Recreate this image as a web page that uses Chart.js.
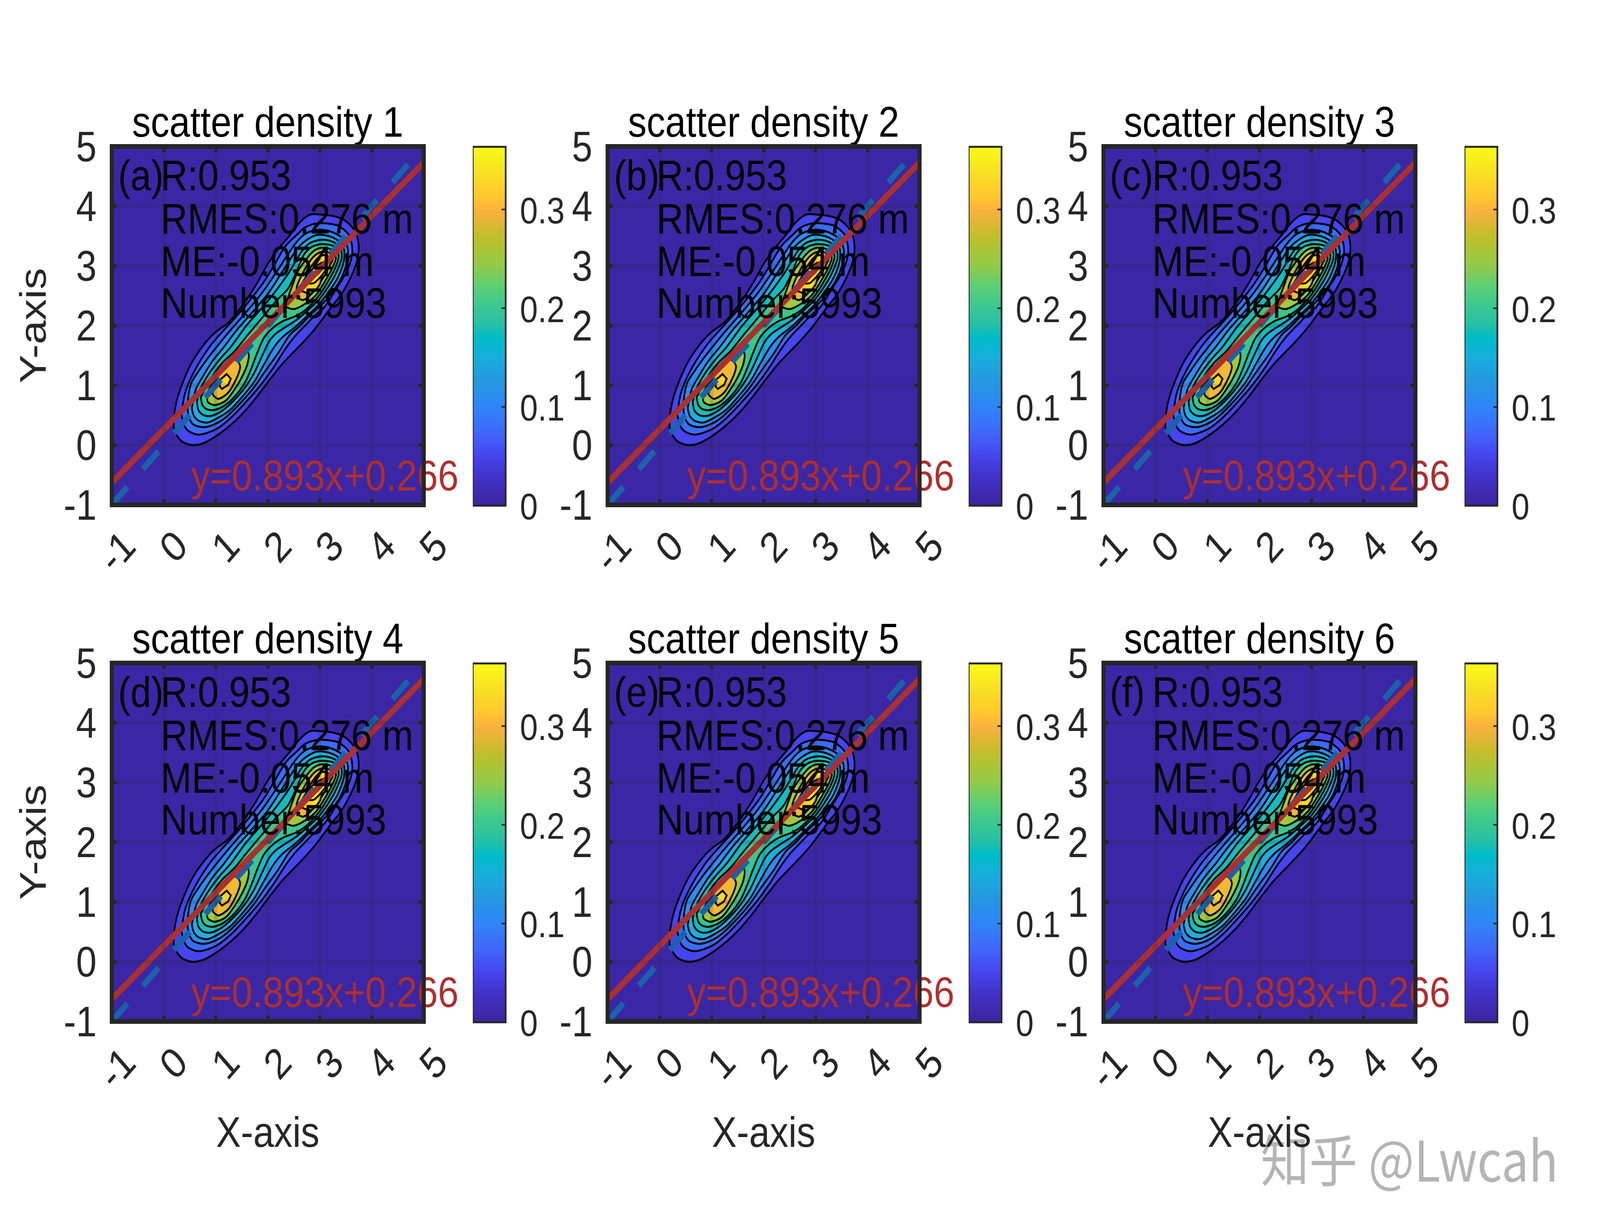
<!DOCTYPE html>
<html lang="zh">
<head>
<meta charset="UTF-8">
<title>scatter density</title>
<script src="https://cdn.jsdelivr.net/npm/chart.js"></script>
<style>
    html, body { margin: 0; background: #fff; overflow: hidden; }
    #page { width: 4724px; height: 3150px; position: relative; transform-origin: 0 0; }
    canvas { position: absolute; }
    #mark {
        position: absolute; left: 3722px; top: 2860px; white-space: pre;
        font: 143px "Noto Sans CJK SC"; color: #b4b4b4; text-shadow: -5px -4px 0 #fff;
    }
</style>
</head>
<body>
<div id="page"><div id="mark">知乎 @Lwcah</div></div>

<script>
    // values
    const panelTitles = ['scatter density 1', 'scatter density 2', 'scatter density 3', 'scatter density 4', 'scatter density 5', 'scatter density 6'];
    const panelLetters = ['(a)', '(b)', '(c)', '(d)', '(e)', '(f)'];
    const noteLines = ['R:0.953', 'RMES:0.276 m', 'ME:-0.054 m', 'Number:5993'];
    const fitLabel = 'y=0.893x+0.266';
    const axisTicks = [-1, 0, 1, 2, 3, 4, 5];
    const colorTicks = [0, 0.1, 0.2, 0.3];
    const colorMax = 0.3635;
    const fitLine = [[-1, -0.627], [5, 4.731]];
    const identityLine = [[-1, -1], [5, 5]];

    // colour bar (value, colour)
    const barValues = [0, 0.029, 0.053, 0.075, 0.099, 0.126, 0.15, 0.17, 0.184, 0.204, 0.223, 0.242, 0.262, 0.276, 0.298, 0.315, 0.337, 0.3635];
    const barColors = ['#3c259e', '#4232c8', '#4548f0', '#4068fa', '#2e84f8', '#2598e0', '#17aedb', '#00bcc8', '#27c0a6', '#3dc98e', '#5fcf73', '#8fcb4b', '#b0c233', '#c9bd2c', '#f9b03e', '#ffc92e', '#f7e024', '#f9fb15'];

    // density contours, outer to inner
    const plotBack = [[-1, -1], [5, -1], [5, 5], [-1, 5], [-1, -1]];
    const level1 = [[0.19, 0.3], [0.25, 0.165], [0.355, 0.057], [0.55, 0], [0.77, 0.035], [1.03, 0.165], [1.29, 0.34], [1.55, 0.56], [1.8, 0.82], [2.06, 1.12], [2.28, 1.36], [2.5, 1.56], [2.71, 1.75], [2.93, 1.97], [3.23, 2.32], [3.41, 2.52], [3.58, 2.78], [3.71, 3.06], [3.75, 3.3], [3.71, 3.52], [3.62, 3.65], [3.45, 3.78], [3.23, 3.84], [3.02, 3.86], [2.82, 3.86], [2.63, 3.74], [2.43, 3.52], [2.2, 3.28], [2, 3.03], [1.8, 2.72], [1.55, 2.38], [1.25, 2.06], [0.98, 1.88], [0.77, 1.68], [0.55, 1.4], [0.38, 1.08], [0.26, 0.78], [0.2, 0.51], [0.19, 0.3]];
    const level2 = [[0.34, 0.51], [0.4, 0.32], [0.485, 0.23], [0.66, 0.176], [0.85, 0.21], [1.07, 0.3], [1.33, 0.49], [1.59, 0.73], [1.85, 0.99], [2.11, 1.3], [2.33, 1.6], [2.52, 1.82], [2.74, 2.02], [2.93, 2.19], [3.1, 2.32], [3.34, 2.65], [3.52, 2.91], [3.62, 3.17], [3.62, 3.34], [3.56, 3.52], [3.36, 3.67], [3.15, 3.71], [2.93, 3.71], [2.71, 3.64], [2.56, 3.52], [2.35, 3.34], [2.1, 2.98], [1.9, 2.7], [1.5, 2.26], [1.13, 1.9], [0.92, 1.69], [0.68, 1.38], [0.51, 1.1], [0.4, 0.84], [0.34, 0.51]];
    const level3 = [[0.46, 0.56], [0.5, 0.43], [0.58, 0.34], [0.77, 0.3], [0.98, 0.35], [1.2, 0.47], [1.46, 0.69], [1.72, 0.95], [1.96, 1.25], [2.2, 1.54], [2.42, 1.84], [2.61, 1.99], [2.83, 2.19], [3.1, 2.41], [3.36, 2.71], [3.47, 2.91], [3.54, 3.12], [3.53, 3.32], [3.43, 3.47], [3.19, 3.58], [2.93, 3.6], [2.71, 3.53], [2.52, 3.36], [2.2, 2.94], [1.9, 2.56], [1.6, 2.24], [1.26, 1.9], [1.06, 1.69], [0.86, 1.47], [0.68, 1.25], [0.53, 1.04], [0.47, 0.8], [0.46, 0.56]];
    const level4 = [[0.54, 0.62], [0.58, 0.49], [0.68, 0.405], [0.85, 0.38], [1.07, 0.47], [1.29, 0.6], [1.5, 0.8], [1.74, 1.06], [1.94, 1.37], [2.13, 1.65], [2.3, 1.82], [2.52, 1.97], [2.74, 2.15], [3, 2.37], [3.3, 2.73], [3.41, 2.93], [3.47, 3.12], [3.46, 3.3], [3.36, 3.42], [3.17, 3.5], [2.95, 3.52], [2.76, 3.44], [2.58, 3.3], [2.3, 2.93], [2, 2.53], [1.7, 2.22], [1.39, 1.91], [1.16, 1.645], [0.94, 1.41], [0.745, 1.14], [0.615, 0.93], [0.54, 0.62]];
    const level5 = [[0.636, 0.72], [0.67, 0.58], [0.77, 0.5], [0.92, 0.49], [1.13, 0.58], [1.35, 0.75], [1.55, 0.95], [1.74, 1.21], [1.89, 1.49], [2.03, 1.74], [2.16, 1.87], [2.33, 1.97], [2.56, 2.1], [2.76, 2.25], [3, 2.45], [3.245, 2.765], [3.35, 2.95], [3.42, 3.12], [3.41, 3.27], [3.31, 3.375], [3.15, 3.43], [2.97, 3.43], [2.8, 3.375], [2.65, 3.24], [2.4, 2.88], [2.1, 2.52], [1.85, 2.26], [1.58, 1.99], [1.29, 1.645], [1.07, 1.43], [0.85, 1.17], [0.7, 0.93], [0.636, 0.72]];
    const level6 = [[0.71, 0.8], [0.745, 0.67], [0.83, 0.6], [0.98, 0.59], [1.18, 0.67], [1.39, 0.84], [1.57, 1.06], [1.7, 1.32], [1.8, 1.55], [1.93, 1.8], [2.11, 1.97], [2.3, 2.08], [2.56, 2.17], [2.76, 2.29], [3, 2.52], [3.2, 2.8], [3.3, 2.97], [3.36, 3.12], [3.35, 3.23], [3.27, 3.33], [3.13, 3.36], [2.985, 3.36], [2.83, 3.31], [2.69, 3.18], [2.55, 2.9], [2.39, 2.62], [2.17, 2.42], [1.9, 2.14], [1.61, 1.84], [1.37, 1.58], [1.13, 1.38], [0.96, 1.19], [0.79, 0.93], [0.71, 0.8]];
    const level7a = [[0.83, 0.8], [0.85, 0.72], [0.98, 0.67], [1.2, 0.75], [1.39, 0.97], [1.52, 1.17], [1.61, 1.36], [1.63, 1.54], [1.5, 1.62], [1.33, 1.47], [1.13, 1.28], [0.98, 1.1], [0.87, 0.93], [0.83, 0.8]];
    const level7b = [[2.325, 2.32], [2.5, 2.276], [2.71, 2.36], [2.93, 2.515], [3.16, 2.83], [3.255, 2.99], [3.31, 3.12], [3.29, 3.21], [3.21, 3.28], [3.1, 3.3], [3, 3.3], [2.87, 3.24], [2.74, 3.11], [2.58, 2.91], [2.48, 2.69], [2.39, 2.47], [2.325, 2.32]];
    const level8a = [[0.94, 0.84], [1.05, 0.775], [1.24, 0.88], [1.39, 1.1], [1.47, 1.3], [1.44, 1.38], [1.33, 1.44], [1.16, 1.27], [0.98, 1.06], [0.94, 0.84]];
    const level8b = [[2.56, 2.47], [2.69, 2.43], [2.87, 2.56], [3.1, 2.85], [3.2, 3.02], [3.255, 3.12], [3.22, 3.19], [3.15, 3.23], [3.02, 3.23], [2.9, 3.17], [2.78, 3.04], [2.65, 2.84], [2.56, 2.65], [2.56, 2.47]];
    const level9a = [[1.08, 1.09], [1.21, 1.19], [1.29, 1.11], [1.24, 1.01], [1.12, 0.94], [1.08, 0.98], [1.08, 1.09]];
    const level9b = [[2.65, 2.58], [2.83, 2.54], [3, 2.69], [3.06, 2.885], [3.15, 3.04], [3.19, 3.1], [3.16, 3.16], [3.08, 3.18], [3, 3.16], [2.91, 3.08], [2.81, 2.95], [2.71, 2.78], [2.65, 2.69], [2.65, 2.58]];
    const level10 = [[2.89, 2.71], [3.02, 2.82], [3.12, 2.95], [3.12, 3.03], [3.08, 3.06], [2.97, 3.02], [2.84, 2.93], [2.78, 2.82], [2.8, 2.71], [2.89, 2.71]];

    const contours = [level1, level2, level3, level4, level5, level6, level7a, level7b, level8a, level8b, level9a, level9b, level10];
    const contourColors = ['#4645ee', '#3b6cf8', '#2f8cf2', '#1faee0', '#16bcbc', '#3cc68c', '#a0c83c', '#a0c83c', '#efb934', '#efb934', '#fdd62a', '#fdd62a', '#f9f516'];

    const font = 'Liberation Sans, Arial, sans-serif';
    const ink = '#262626';
    const page = document.getElementById('page');

    // the window can come up narrower than asked, keep the whole figure in it
    page.style.transform = 'scale(' + (window.innerWidth / 4724) + ',' + (window.innerHeight / 3150) + ')';

    function contourSet(k) {
        return {
            data: contours[k], showLine: true, fill: 'shape', pointRadius: 0,
            backgroundColor: contourColors[k], borderColor: '#000', borderWidth: 5, tension: k == 10 ? 0 : 0.3
        };
    }

    // text inside the axes plus box and inward ticks, after everything else
    const panelExtras = {
        id: 'panelExtras',
        afterDraw(chart, args, opts) {
            const c = chart.ctx, a = chart.chartArea, sx = chart.scales.x, sy = chart.scales.y;
            c.save();
            c.textBaseline = 'alphabetic';
            c.font = '110px ' + font;
            c.fillStyle = '#000';
            c.fillText(opts.letter, sx.getPixelForValue(-0.88), sy.getPixelForValue(4.27));
            const noteY = [4.27, 3.54, 2.83, 2.13];
            noteLines.forEach((t, i) => c.fillText(t, sx.getPixelForValue(-0.06), sy.getPixelForValue(noteY[i])));
            c.fillStyle = '#ae2f2f';
            c.fillText(fitLabel, sx.getPixelForValue(0.53), sy.getPixelForValue(-0.757));

            c.fillStyle = ink;
            axisTicks.forEach(v => {
                const px = sx.getPixelForValue(v), py = sy.getPixelForValue(v);
                c.fillRect(px - 4.5, a.top, 9, 15);
                c.fillRect(px - 4.5, a.bottom - 15, 9, 15);
                c.fillRect(a.left, py - 4.5, 15, 9);
                c.fillRect(a.right - 15, py - 4.5, 15, 9);
            });
            c.strokeStyle = ink;
            c.lineWidth = 12;
            c.strokeRect(a.left, a.top, a.right - a.left, a.bottom - a.top);
            c.restore();
        }
    };

    const barExtras = {
        id: 'barExtras',
        afterDraw(chart) {
            const c = chart.ctx, a = chart.chartArea, sy = chart.scales.y;
            c.save();
            c.fillStyle = ink;
            colorTicks.slice(1).forEach(v => c.fillRect(a.right - 12, sy.getPixelForValue(v) - 2, 12, 4));
            c.strokeStyle = ink;
            c.lineWidth = 5;
            c.strokeRect(a.left, a.top, a.right - a.left, a.bottom - a.top);
            c.restore();
        }
    };

    function addCanvas(left, top, width, height) {
        const cv = document.createElement('canvas');
        cv.width = width;
        cv.height = height;
        cv.style.left = left + 'px';
        cv.style.top = top + 'px';
        cv.style.width = width + 'px';
        cv.style.height = height + 'px';
        page.appendChild(cv);
        return cv;
    }

    function drawPanel(i) {
        const col = i % 3, row = Math.floor(i / 3);
        const axLeft = 330 + col * 1464, axTop = 375 + row * 1323;
        const cv = addCanvas(axLeft - 290, axTop - 119, 290 + 921 + 130, 119 + 918 + 346);

        const sets = [
            { data: fitLine, showLine: true, pointRadius: 0, borderColor: '#ab3030', borderWidth: 16 },
            { data: identityLine, showLine: true, pointRadius: 0, borderColor: '#1b62ab', borderWidth: 16, borderDash: [65, 65] }
        ];
        for (let k = contours.length - 1; k >= 0; k--) sets.push(contourSet(k));
        sets.push({ data: plotBack, showLine: true, fill: 'shape', pointRadius: 0, backgroundColor: '#3b27a5', borderWidth: 0 });

        new Chart(cv, {
            type: 'scatter',
            data: { datasets: sets },
            plugins: [panelExtras],
            options: {
                responsive: false, animation: false, devicePixelRatio: 1,
                layout: { padding: { right: 130 } },
                plugins: {
                    legend: { display: false },
                    tooltip: { enabled: false },
                    title: {
                        display: true, text: panelTitles[i], color: '#000', fullSize: false,
                        font: { family: font, size: 110, weight: 'normal', lineHeight: 1 },
                        padding: { top: 9, bottom: 0 }
                    },
                    panelExtras: { letter: panelLetters[i] }
                },
                scales: {
                    x: {
                        type: 'linear', min: -1, max: 5,
                        afterBuildTicks: s => { s.ticks = axisTicks.map(v => ({ value: v })); },
                        afterFit: s => { s.height = 346; s.paddingLeft = 0; s.paddingRight = 0; },
                        ticks: { color: ink, font: { family: font, size: 109 }, minRotation: 45, maxRotation: 45, padding: 44, labelOffset: 55, autoSkip: false },
                        grid: { color: 'rgba(38,38,38,0.15)', lineWidth: 10, drawTicks: false, z: 1 },
                        border: { display: false },
                        title: {
                            display: row == 1, text: 'X-axis', color: ink, padding: 0,
                            font: { family: font, size: 110, weight: 'normal', lineHeight: 1 }
                        }
                    },
                    y: {
                        type: 'linear', min: -1, max: 5,
                        afterBuildTicks: s => { s.ticks = axisTicks.map(v => ({ value: v })); },
                        afterFit: s => { s.width = 290; s.paddingTop = 0; s.paddingBottom = 0; },
                        ticks: { color: ink, font: { family: font, size: 109 }, padding: 45, labelOffset: 8, autoSkip: false },
                        grid: { color: 'rgba(38,38,38,0.15)', lineWidth: 10, drawTicks: false, z: 1 },
                        border: { display: false },
                        title: {
                            display: col == 0, text: 'Y-axis', color: ink, padding: { top: 10, bottom: 0 },
                            font: { family: font, size: 110, weight: 'normal', lineHeight: 1 }
                        }
                    }
                }
            }
        });
    }

    function drawColorBar(i) {
        const col = i % 3, row = Math.floor(i / 3);
        const left = 1396 + col * 1464, top = 376 + row * 1323;
        const cv = addCanvas(left, top - 70, 97 + 190, 919 + 140);

        new Chart(cv, {
            type: 'bar',
            data: {
                labels: ['density'],
                datasets: [{
                    data: [[0, colorMax]],
                    backgroundColor: ctx => {
                        const a = ctx.chart.chartArea;
                        if (!a) return barColors[0];
                        const g = ctx.chart.ctx.createLinearGradient(0, a.bottom, 0, a.top);
                        barValues.forEach((v, k) => g.addColorStop(v / colorMax, barColors[k]));
                        return g;
                    },
                    barPercentage: 1, categoryPercentage: 1
                }]
            },
            plugins: [barExtras],
            options: {
                responsive: false, animation: false, devicePixelRatio: 1,
                layout: { padding: { top: 70, bottom: 70 } },
                plugins: { legend: { display: false }, tooltip: { enabled: false } },
                scales: {
                    x: { display: false },
                    y: {
                        position: 'right', min: 0, max: colorMax,
                        afterBuildTicks: s => { s.ticks = colorTicks.map(v => ({ value: v })); },
                        afterFit: s => { s.width = 190; s.paddingTop = 0; s.paddingBottom = 0; },
                        ticks: { color: ink, font: { family: font, size: 95 }, padding: 34, labelOffset: 9, callback: v => String(v) },
                        grid: { display: false },
                        border: { display: false }
                    }
                }
            }
        });
    }

    for (let i = 0; i < 6; i++) {
        drawPanel(i);
        drawColorBar(i);
    }
</script>
</body>
</html>
